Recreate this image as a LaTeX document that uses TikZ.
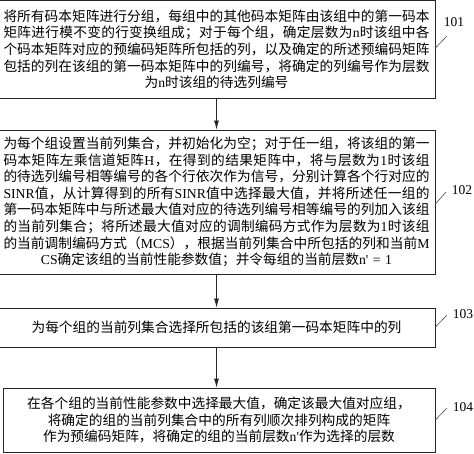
\documentclass[tikz,border=0pt]{standalone}
\usepackage{fontspec}
\setmainfont{Noto Sans CJK SC}
\newfontfamily\lat{Liberation Serif}
\usetikzlibrary{arrows.meta}
\setlength{\parindent}{0pt}
\makeatletter
\newcommand\jline[1]{\leavevmode\hbox to 426pt{\@tfor\jx:=#1\do{{\jx}\hskip 0pt plus 1fil}\unskip}}
\makeatother
\begin{document}
\begin{tikzpicture}[x=1pt,y=-1pt,
  box/.style={draw=black!85, line width=0.8pt, inner xsep=5pt, inner ysep=0pt,
    font=\fontsize{13.7}{16.6}\selectfont},
  jbox/.style={box, text width=426pt, align=center},
  cbox/.style={box, align=center},
  arr/.style={draw=black!85, line width=0.8pt, -{Latex[length=9pt,width=5pt]}},
  lead/.style={draw=black!70, line width=0.6pt},
  lab/.style={font=\lat\fontsize{13.5}{16}\selectfont, inner sep=0pt}]
\useasboundingbox (0,0) rectangle (474,454);
\fill[white] (0,0) rectangle (474,454);

\node[jbox, minimum width=437pt, minimum height=98pt] (b1) at (216.5,49.3) {%
\jline{将所有码本矩阵进行分组，每组中的其他码本矩阵由该组中的第一码本}\\
\jline{矩阵进行模不变的行变换组成；对于每个组，确定层数为{\lat n}时该组中各}\\
\jline{个码本矩阵对应的预编码矩阵所包括的列，以及确定的所述预编码矩阵}\\
\jline{包括的列在该组的第一码本矩阵中的列编号，将确定的列编号作为层数}\\
为{\lat n}时该组的待选列编号};

\node[jbox, minimum width=437pt, minimum height=144pt] (b2) at (216.5,202) {%
\jline{为每个组设置当前列集合，并初始化为空；对于任一组，将该组的第一}\\
\jline{码本矩阵左乘信道矩阵{\lat H}，在得到的结果矩阵中，将与层数为{\lat 1}时该组}\\
\jline{的待选列编号相等编号的各个行依次作为信号，分别计算各个行对应的}\\
\jline{{\lat SINR}值，从计算得到的所有{\lat SINR}值中选择最大值，并将所述任一组的}\\
\jline{第一码本矩阵中与所述最大值对应的待选列编号相等编号的列加入该组}\\
\jline{的当前列集合；将所述最大值对应的调制编码方式作为层数为{\lat 1}时该组}\\
\jline{的当前调制编码方式（{\lat MCS}），根据当前列集合中所包括的列和当前{\lat M}}\\
{\lat CS}确定该组的当前性能参数值；并令每组的当前层数{\lat n' = 1}};

\node[cbox, minimum width=437pt, minimum height=39pt] (b3) at (216.5,327.5) {%
为每个组的当前列集合选择所包括的该组第一码本矩阵中的列};

\node[cbox, minimum width=432pt, minimum height=64pt] (b4) at (219,420) {%
在各个组的当前性能参数中选择最大值，确定该最大值对应组，\\
将确定的组的当前列集合中的所有列顺次排列构成的矩阵\\
作为预编码矩阵，将确定的组的当前层数{\lat n'}作为选择的层数};

\draw[arr] (b1.south) -- (b2.north);
\draw[arr] (b2.south) -- (b3.north);
\draw[arr] (b3.south) -- (b3.south |- b4.north);

\node[lab] (l1) at (454,22) {101};
\node[lab] (l2) at (462,190) {102};
\node[lab] (l3) at (463,314) {103};
\node[lab] (l4) at (463,407) {104};

\coordinate (t1) at (447,36);
\coordinate (t2) at (446,192);
\coordinate (t3) at (447,315);
\coordinate (t4) at (447,408);
\draw[lead] (b1.east |- 0,48) -- (t1);
\draw[lead] (b2.east |- 0,204) -- (t2);
\draw[lead] (b3.east |- 0,327) -- (t3);
\draw[lead] (b4.east |- 0,420) -- (t4);
\end{tikzpicture}
\end{document}
